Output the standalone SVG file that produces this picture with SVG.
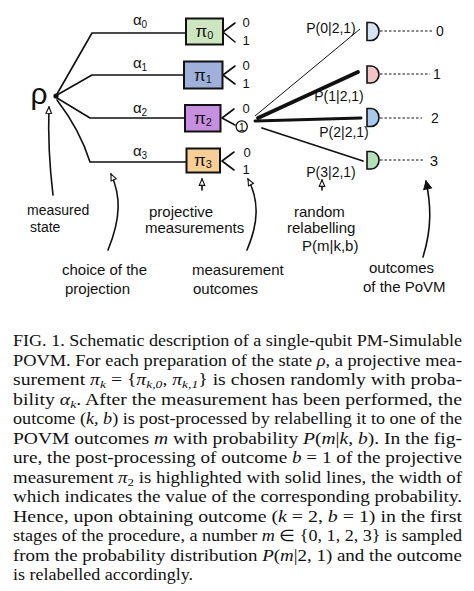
<svg xmlns="http://www.w3.org/2000/svg" width="474" height="591" viewBox="0 0 474 591">
<style>
.hw{font-family:"Liberation Sans","DejaVu Sans",sans-serif;fill:#111}
.num{font-family:"Liberation Sans","DejaVu Sans",sans-serif;fill:#111}
.box{stroke:#111;stroke-width:2}
.ln{fill:none;stroke:#111;stroke-width:1.6;stroke-linecap:round;stroke-linejoin:round}
.det{stroke:#111;stroke-width:1.6}
.dash{fill:none;stroke:#111;stroke-width:1;stroke-dasharray:2.5,2}
.cap{font-family:"Liberation Serif","Times New Roman",serif;fill:#111}
.m{font-style:italic}
</style>
<defs>
<marker id="oa" viewBox="0 0 10 10" refX="9" refY="5" markerWidth="9" markerHeight="8" orient="auto" markerUnits="userSpaceOnUse">
<path d="M1,1.5 L9,5 L1,8.5 Z" fill="#fff" stroke="#111" stroke-width="1.4"/>
</marker>
<marker id="fa" viewBox="0 0 10 10" refX="9" refY="5" markerWidth="10" markerHeight="10" orient="auto" markerUnits="userSpaceOnUse">
<path d="M1,1 L9,5 L1,9 Z" fill="#111" stroke="#111" stroke-width="1"/>
</marker>
</defs>
<rect width="474" height="591" fill="#fff"/>

<g id="connectors">
<path class="ln" d="M57,94 L92,33 L186,33"/>
<path class="ln" d="M57,95 L92,75 L184,75"/>
<path class="ln" d="M57,98 L90,118 L185,118"/>
<path class="ln" d="M57,100 Q80,130 90,162 L187,162"/>
<path class="ln" d="M235,23 L223,32 L235,42"/>
<path class="ln" d="M235,66 L223,75 L235,84"/>
<path class="ln" d="M234,109 L222,118 L235,125"/>
<path class="ln" d="M234,152 L222,161 L234,170"/>
<path fill="none" stroke="#111" stroke-width="1" d="M255,116 L360,29"/>
<path fill="none" stroke="#111" stroke-width="3.8" stroke-linecap="round" d="M258,118 L358,72"/>
<path fill="none" stroke="#111" stroke-width="3" stroke-linecap="round" d="M255,121 L361,118"/>
<path fill="none" stroke="#111" stroke-width="1.8" stroke-linecap="round" d="M262,128 L363,161"/>
<path class="dash" d="M380,31 L432,31"/>
<path class="dash" d="M380,74 L430,74"/>
<path class="dash" d="M380,118 L422,118"/>
<path class="dash" d="M380,160 L423,160"/>
<path class="ln" marker-end="url(#oa)" d="M53,195 C50,170 48,135 49,107"/>
<path class="ln" marker-end="url(#oa)" d="M108,250 C121,218 121,196 111,174"/>
<path class="ln" marker-end="url(#oa)" d="M202,190 L202,179"/>
<path class="ln" marker-end="url(#oa)" d="M247,250 C259,222 259,200 248,179"/>
<path class="ln" marker-end="url(#oa)" d="M322,190 L322,180"/>
<path class="ln" marker-end="url(#fa)" d="M423,257 C432,228 431,205 426,181"/>
</g>

<g id="rho">
<text class="hw" x="39" y="104" font-size="30" text-anchor="middle">ρ</text>
<circle cx="56" cy="96" r="2.6" fill="#111"/>
</g>

<g id="alpha-labels">
<text class="hw" x="140" y="25" font-size="15" text-anchor="middle">α<tspan font-size="10" dy="3">0</tspan></text>
<text class="hw" x="140" y="68" font-size="15" text-anchor="middle">α<tspan font-size="10" dy="3">1</tspan></text>
<text class="hw" x="140" y="113" font-size="15" text-anchor="middle">α<tspan font-size="10" dy="3">2</tspan></text>
<text class="hw" x="140" y="156" font-size="15" text-anchor="middle">α<tspan font-size="10" dy="3">3</tspan></text>
</g>

<g id="pi0">
<rect class="box" x="186" y="18.5" width="37" height="26" fill="#cde6bf"/>
<text class="hw" x="204.5" y="37" font-size="17" text-anchor="middle">π<tspan font-size="11" dy="2">0</tspan></text>
<text class="num" x="246" y="27" font-size="13" text-anchor="middle">0</text>
<text class="num" x="246" y="45" font-size="13" text-anchor="middle">1</text>
</g>
<g id="pi1">
<rect class="box" x="184" y="61.5" width="38.5" height="27" fill="#9fb1da"/>
<text class="hw" x="203" y="81" font-size="17" text-anchor="middle">π<tspan font-size="11" dy="2">1</tspan></text>
<text class="num" x="246" y="70" font-size="13" text-anchor="middle">0</text>
<text class="num" x="246" y="88" font-size="13" text-anchor="middle">1</text>
</g>
<g id="pi2">
<rect class="box" x="185" y="105" width="35.5" height="26.5" fill="#c68fe0"/>
<text class="hw" x="203" y="124" font-size="17" text-anchor="middle">π<tspan font-size="11" dy="2">2</tspan></text>
<text class="num" x="246" y="113" font-size="13" text-anchor="middle">0</text>
<circle cx="241.7" cy="126.5" r="5.6" fill="none" stroke="#111" stroke-width="1.3"/>
<text class="num" x="241.7" y="130.5" font-size="11" text-anchor="middle">1</text>
</g>
<g id="pi3">
<rect class="box" x="186.5" y="148.5" width="33.5" height="24" fill="#f7cf96"/>
<text class="hw" x="203" y="166" font-size="17" text-anchor="middle">π<tspan font-size="11" dy="2">3</tspan></text>
<text class="num" x="247" y="157" font-size="13" text-anchor="middle">0</text>
<text class="num" x="246" y="174" font-size="13" text-anchor="middle">1</text>
</g>

<g id="prob-labels">
<text class="hw" x="331" y="33" font-size="14" text-anchor="middle">P(0|2,1)</text>
<text class="hw" x="339" y="101" font-size="14" text-anchor="middle">P(1|2,1)</text>
<text class="hw" x="344" y="137" font-size="14" text-anchor="middle">P(2|2,1)</text>
<text class="hw" x="331" y="177" font-size="14" text-anchor="middle">P(3|2,1)</text>
</g>

<g id="det0">
<path class="det" d="M367,22.5 L371,22.5 A8,9 0 0 1 371,40.5 L367,40.5 Z" fill="#d5e2f0"/>
<text class="num" x="440" y="36" font-size="14" text-anchor="middle">0</text>
</g>
<g id="det1">
<path class="det" d="M367,66 L371,66 A8,8.5 0 0 1 371,83 L367,83 Z" fill="#f3c4c4"/>
<text class="num" x="437" y="79" font-size="14" text-anchor="middle">1</text>
</g>
<g id="det2">
<path class="det" d="M367,108.5 L371,108.5 A8,9 0 0 1 371,126.5 L367,126.5 Z" fill="#a8c8ec"/>
<text class="num" x="435" y="123" font-size="14" text-anchor="middle">2</text>
</g>
<g id="det3">
<path class="det" d="M367,151.5 L371,151.5 A8,8.7 0 0 1 371,169 L367,169 Z" fill="#b6e2b8"/>
<text class="num" x="434" y="166" font-size="15" text-anchor="middle">3</text>
</g>

<g id="annotations">
<text class="hw" x="27" y="215" font-size="14">measured</text>
<text class="hw" x="30" y="232" font-size="14">state</text>
<text class="hw" x="62" y="275" font-size="15">choice of the</text>
<text class="hw" x="65" y="294" font-size="15">projection</text>
<text class="hw" x="149" y="217" font-size="15">projective</text>
<text class="hw" x="145" y="233" font-size="15">measurements</text>
<text class="hw" x="192" y="275" font-size="15">measurement</text>
<text class="hw" x="193" y="294" font-size="15">outcomes</text>
<text class="hw" x="294" y="217" font-size="15">random</text>
<text class="hw" x="287" y="233" font-size="15">relabelling</text>
<text class="hw" x="302" y="251" font-size="15">P(m|k,b)</text>
<text class="hw" x="369" y="273" font-size="15">outcomes</text>
<text class="hw" x="363" y="292" font-size="15">of the PoVM</text>
</g>

<g id="caption" font-size="16">
<text class="cap" x="13" y="346" textLength="449" lengthAdjust="spacingAndGlyphs">FIG. 1. Schematic description of a single-qubit PM-Simulable</text>
<text class="cap" x="13" y="365.5" textLength="449" lengthAdjust="spacingAndGlyphs">POVM. For each preparation of the state <tspan class="m">ρ</tspan>, a projective mea-</text>
<text class="cap" x="13" y="385" textLength="449" lengthAdjust="spacingAndGlyphs">surement <tspan class="m">π</tspan><tspan class="m" font-size="11" dy="3">k</tspan><tspan dy="-3"> = {</tspan><tspan class="m">π</tspan><tspan class="m" font-size="11" dy="3">k,0</tspan><tspan dy="-3">, </tspan><tspan class="m">π</tspan><tspan class="m" font-size="11" dy="3">k,1</tspan><tspan dy="-3">} is chosen randomly with proba-</tspan></text>
<text class="cap" x="13" y="404.5" textLength="449" lengthAdjust="spacingAndGlyphs">bility <tspan class="m">α</tspan><tspan class="m" font-size="11" dy="3">k</tspan><tspan dy="-3">.  After the measurement has been performed, the</tspan></text>
<text class="cap" x="13" y="424" textLength="449" lengthAdjust="spacingAndGlyphs">outcome (<tspan class="m">k, b</tspan>) is post-processed by relabelling it to one of the</text>
<text class="cap" x="13" y="443.5" textLength="449" lengthAdjust="spacingAndGlyphs">POVM outcomes <tspan class="m">m</tspan> with probability <tspan class="m">P</tspan>(<tspan class="m">m</tspan>|<tspan class="m">k, b</tspan>).  In the fig-</text>
<text class="cap" x="13" y="463" textLength="449" lengthAdjust="spacingAndGlyphs">ure, the post-processing of outcome <tspan class="m">b</tspan> = 1 of the projective</text>
<text class="cap" x="13" y="482.5" textLength="449" lengthAdjust="spacingAndGlyphs">measurement <tspan class="m">π</tspan><tspan font-size="11" dy="3">2</tspan><tspan dy="-3"> is highlighted with solid lines, the width of</tspan></text>
<text class="cap" x="13" y="502" textLength="449" lengthAdjust="spacingAndGlyphs">which indicates the value of the corresponding probability.</text>
<text class="cap" x="13" y="521.5" textLength="449" lengthAdjust="spacingAndGlyphs">Hence, upon obtaining outcome (<tspan class="m">k</tspan> = 2, <tspan class="m">b</tspan> = 1) in the first</text>
<text class="cap" x="13" y="541" textLength="449" lengthAdjust="spacingAndGlyphs">stages of the procedure, a number <tspan class="m">m</tspan> ∈ {0, 1, 2, 3} is sampled</text>
<text class="cap" x="13" y="560.5" textLength="449" lengthAdjust="spacingAndGlyphs">from the probability distribution <tspan class="m">P</tspan>(<tspan class="m">m</tspan>|2, 1) and the outcome</text>
<text class="cap" x="13" y="580" textLength="180" lengthAdjust="spacingAndGlyphs">is relabelled accordingly.</text>
</g>
</svg>
